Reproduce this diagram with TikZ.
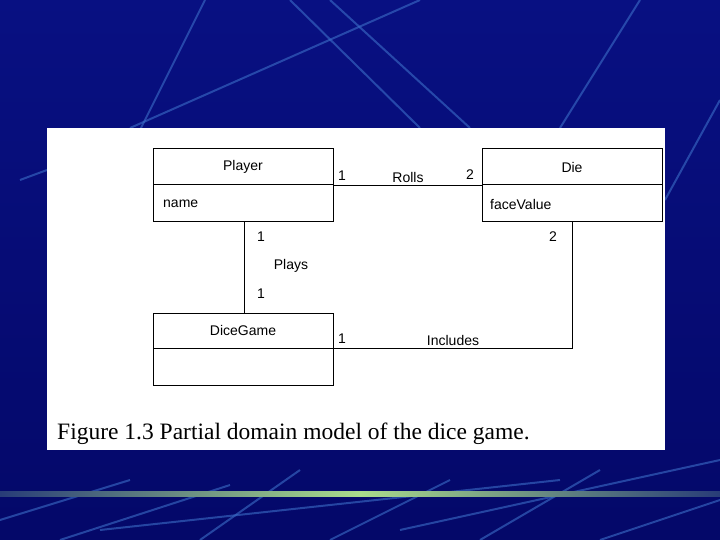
\documentclass[tikz,border=0pt]{standalone}
\usepackage{fontspec}
\setmainfont{Liberation Sans}
\newfontfamily\capfont{Liberation Serif}
\begin{document}
\begin{tikzpicture}[x=1pt,y=-1pt,
  lbl/.style={font=\fontsize{14}{16}\selectfont, inner sep=0pt},
  cls/.style={draw=black, line width=1pt},
  bgl/.style={draw={rgb,255:red,60;green,110;blue,200}, opacity=0.6, line width=2pt}]
\useasboundingbox (0,0) rectangle (720,540);
\shade[top color={rgb,255:red,8;green,16;blue,130}, bottom color={rgb,255:red,4;green,8;blue,105}] (0,0) rectangle (720,540);
% background diagonal lines
\draw[bgl] (140,130) -- (205,0);
\draw[bgl] (290,0) -- (420,128);
\draw[bgl] (330,0) -- (470,128);
\draw[bgl] (20,180) -- (47,170);
\draw[bgl] (130,128) -- (420,0);
\draw[bgl] (560,128) -- (640,0);
\draw[bgl] (665,200) -- (720,100);
\draw[bgl] (0,520) -- (130,480);
\draw[bgl] (60,540) -- (230,485);
\draw[bgl] (200,540) -- (300,470);
\draw[bgl] (100,530) -- (560,480);
\draw[bgl] (330,540) -- (450,480);
\draw[bgl] (400,530) -- (720,460);
\draw[bgl] (480,540) -- (600,470);
\draw[bgl] (600,540) -- (720,500);
% bottom gradient bar
\shade[left color={rgb,255:red,40;green,60;blue,120}, right color={rgb,255:red,40;green,60;blue,120}, middle color={rgb,255:red,170;green,220;blue,140}] (0,491) rectangle (720,496);
% panel
\fill[white] (47,128) rectangle (665,450);
% classes
\draw[cls] (153,149) rectangle (333,222); \draw[cls] (153,185) -- (333,185);
\draw[cls] (482,149) rectangle (662,222); \draw[cls] (482,185) -- (662,185);
\draw[cls] (153,313) rectangle (333,385); \draw[cls] (153,348) -- (333,348);
\node[lbl] (player) at (243,167) {Player};
\node[lbl,anchor=west] (name) at (163,204) {name};
\node[lbl] (die) at (572,167) {Die};
\node[lbl,anchor=west] (fv) at (490,204) {faceValue};
\node[lbl] (dg) at (243,330) {DiceGame};
\coordinate (pr) at (333,185); \coordinate (dl) at (482,185);
\coordinate (pb) at (244,222); \coordinate (dgt) at (244,313);
\coordinate (dgr) at (333,348); \coordinate (db) at (572,222);
\draw[black] (pr) -- (dl);
\draw[black] (pb) -- (dgt);
\draw[black] (dgr) -| (db);
\node[lbl] at (342,176) {1};
\node[lbl] at (408,177) {Rolls};
\node[lbl] at (470,175) {2};
\node[lbl] at (261,237) {1};
\node[lbl] at (291,266) {Plays};
\node[lbl] at (261,294) {1};
\node[lbl] at (342,339) {1};
\node[lbl] at (453,340) {Includes};
\node[lbl] at (553,237) {2};
\node[anchor=west, inner sep=0pt, font=\capfont\fontsize{23.5}{26}\selectfont] (cap) at (57,434) {Figure 1.3 Partial domain model of the dice game.};
\end{tikzpicture}
\end{document}
